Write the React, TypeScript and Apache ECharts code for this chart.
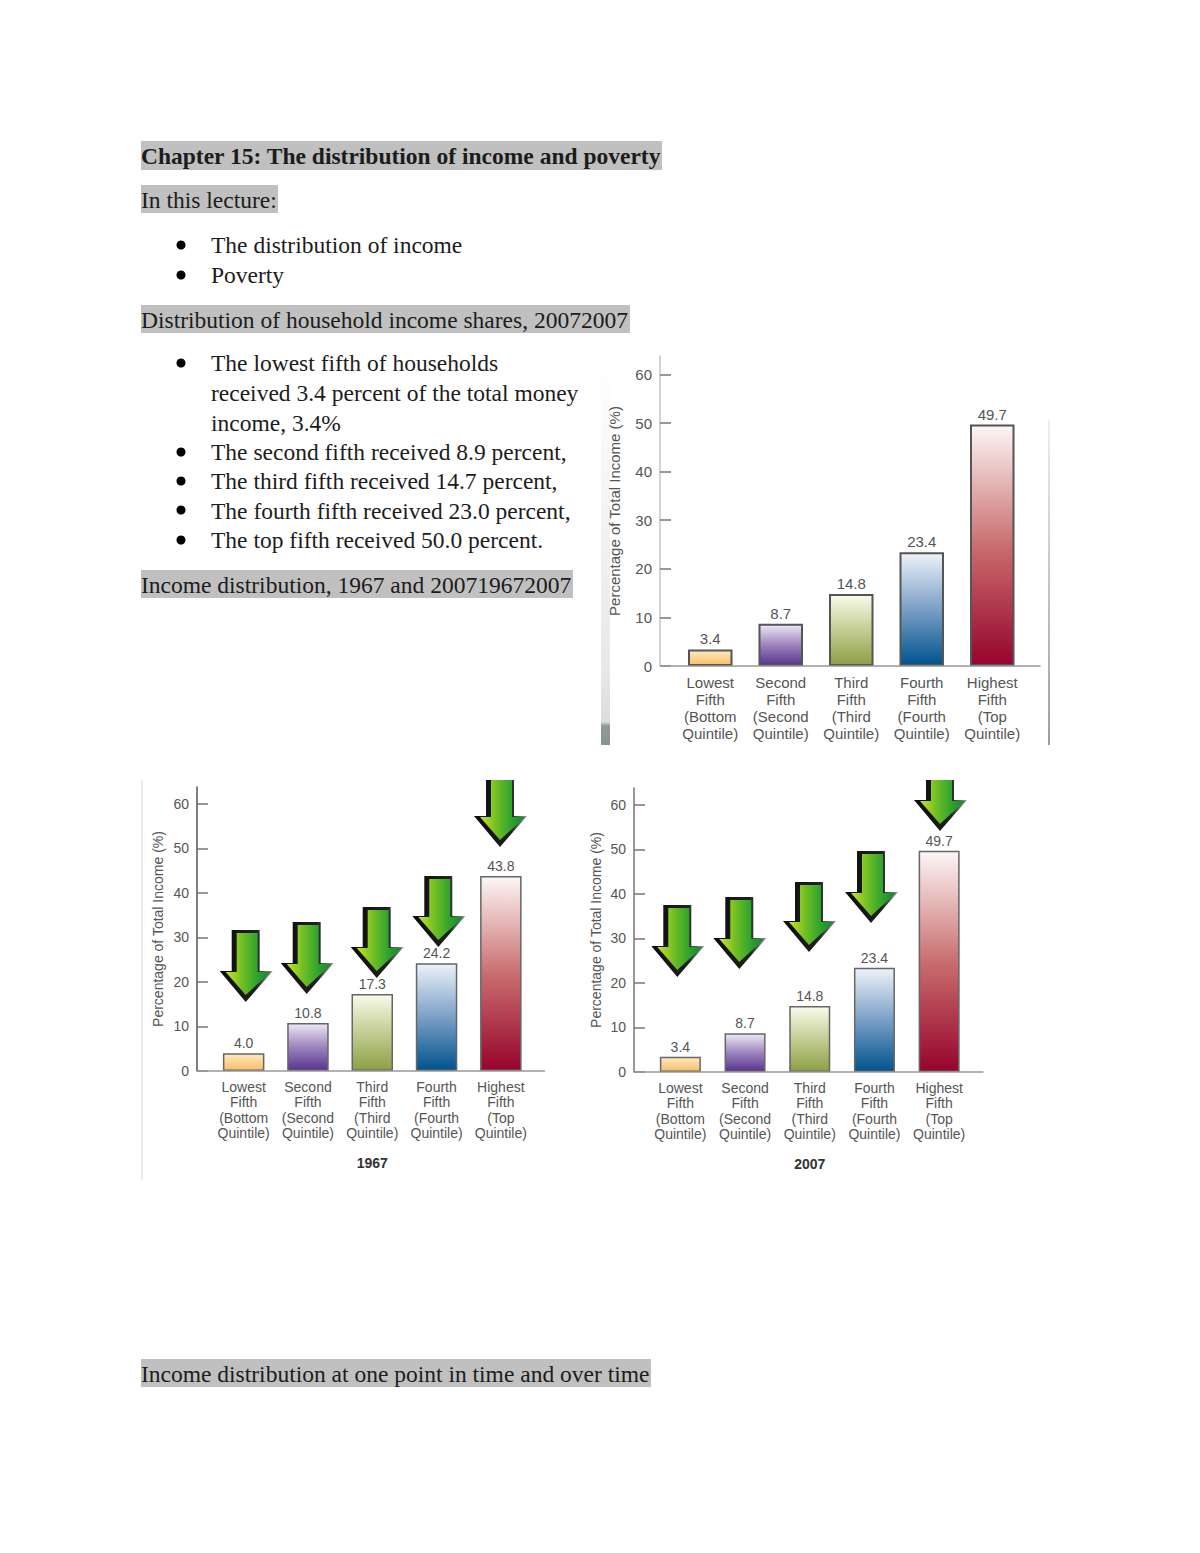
import React, { useEffect, useRef } from "react";
import * as echarts from "echarts";

const categories = [
  "Lowest\nFifth\n(Bottom\nQuintile)",
  "Second\nFifth\n(Second\nQuintile)",
  "Third\nFifth\n(Third\nQuintile)",
  "Fourth\nFifth\n(Fourth\nQuintile)",
  "Highest\nFifth\n(Top\nQuintile)",
];
const shares2007Top = [3.4, 8.7, 14.8, 23.4, 49.7];
const shares1967 = [4.0, 10.8, 17.3, 24.2, 43.8];
const shares2007 = [3.4, 8.7, 14.8, 23.4, 49.7];
const yTicks = [0, 10, 20, 30, 40, 50, 60];
const yTitle = "Percentage of Total Income (%)";
const headingMain = "Chapter 15: The distribution of income and poverty";
const headingLecture = "In this lecture:";
const headingShares = "Distribution of household income shares, 20072007";
const headingYears = "Income distribution, 1967 and 200719672007";
const headingTime = "Income distribution at one point in time and over time";
const lectureItems = ["The distribution of income", "Poverty"];
const shareLines = [
  "The lowest fifth of households",
  "received 3.4 percent of the total money",
  "income, 3.4%",
  "The second fifth received 8.9 percent,",
  "The third fifth received 14.7 percent,",
  "The fourth fifth received 23.0 percent,",
  "The top fifth received 50.0 percent.",
];

const SERIF = '"Liberation Serif"';
const SANS = '"Liberation Sans"';
const gradients = [
  ["#fdeac6", "#fcd493", "#fbbd66"],
  ["#eee8f6", "#9d85bd", "#583490"],
  ["#f8fbea", "#c3cd94", "#8d9f45"],
  ["#edf2f9", "#7b9fc6", "#00538e"],
  ["#fdf6f6", "#c96e6e", "#96042c"],
];

function vGrad(c: string[]) {
  return new echarts.graphic.LinearGradient(0, 0, 0, 1, [
    { offset: 0, color: c[0] },
    { offset: 0.5, color: c[1] },
    { offset: 1, color: c[2] },
  ]);
}

function docText(text: string, x: number, y: number, bold = false) {
  return {
    type: "text",
    x,
    y: y - 0.5,
    z: 10,
    style: {
      text,
      fill: "#1c1c1c",
      fontFamily: SERIF,
      fontSize: 23.5,
      fontWeight: bold ? "bold" : "normal",
      verticalAlign: "middle",
      align: "left",
    },
  };
}
function band(x: number, y: number, w: number, h: number) {
  return { type: "rect", z: 5, shape: { x, y, width: w, height: h }, style: { fill: "#c0c0c0" } };
}
function bullet(y: number) {
  return { type: "circle", z: 10, shape: { cx: 181, cy: y, r: 4.5 }, style: { fill: "#000" } };
}

function arrow(cx: number, tip: number, top: number, clipped = false) {
  const hy = tip - 30;
  const innerTop = clipped ? top : top + 3;
  return {
    type: "group",
    z: 20,
    children: [
      {
        type: "polygon",
        z: 20,
        shape: {
          points: [
            [cx - 14, top],
            [cx + 14, top],
            [cx + 14, hy - 1],
            [cx + 27, hy - 1],
            [cx, tip],
            [cx - 26, hy - 1],
            [cx - 14, hy - 1],
          ],
        },
        style: {
          fill: new echarts.graphic.LinearGradient(0, 0, 1, 0, [
            { offset: 0, color: "#0a0a0a" },
            { offset: 0.7, color: "#222" },
            { offset: 1, color: "#a0a0a0" },
          ]),
        },
      },
      {
        type: "polygon",
        z: 21,
        shape: {
          points: [
            [cx - 9, innerTop],
            [cx + 12, innerTop],
            [cx + 12, hy],
            [cx + 25, hy],
            [cx, tip - 7],
            [cx - 20, hy],
            [cx - 9, hy],
          ],
        },
        style: {
          fill: new echarts.graphic.LinearGradient(0, 0, 1, 0, [
            { offset: 0, color: "#c8e61a" },
            { offset: 0.35, color: "#74c024" },
            { offset: 0.7, color: "#2fa32e" },
            { offset: 1, color: "#0f8a2e" },
          ]),
        },
      },
    ],
  };
}

interface Panel {
  values: number[];
  axisX: number;
  bandLeft: number;
  bandWidth: number;
  top: number;
  zero: number;
  maxValue: number;
  fontSize: number;
  titleSize: number;
  lineHeight: number;
  barWidth: number;
  nameGap: number;
  yLine: string;
  border: string;
  borderWidth: number;
  year?: string;
}

const panels: Panel[] = [
  { values: shares2007Top, axisX: 660, bandLeft: 675, bandWidth: 352.5, top: 356, zero: 666, maxValue: 63.8, fontSize: 15, titleSize: 15, lineHeight: 17, barWidth: 44.5, nameGap: 38, yLine: "#c4c4c4", border: "#555", borderWidth: 2 },
  { values: shares1967, axisX: 197, bandLeft: 211.5, bandWidth: 321.5, top: 787, zero: 1071, maxValue: 63.8, fontSize: 14, titleSize: 14, lineHeight: 15.4, barWidth: 41.5, nameGap: 32, yLine: "#555", border: "#666", borderWidth: 1.5, year: "1967" },
  { values: shares2007, axisX: 634, bandLeft: 648, bandWidth: 323.5, top: 788, zero: 1072, maxValue: 63.8, fontSize: 14, titleSize: 14, lineHeight: 15.4, barWidth: 41, nameGap: 31, yLine: "#777", border: "#666", borderWidth: 1.5, year: "2007" },
];

function buildOption() {
  const grid = panels.map((p) => ({
    left: p.bandLeft,
    top: p.top,
    width: p.bandWidth,
    height: p.zero - p.top,
    containLabel: false,
  }));
  const xAxis = panels.map((p, i) => ({
    type: "category",
    gridIndex: i,
    data: categories,
    axisLine: { show: false },
    axisTick: { show: false },
    axisLabel: {
      interval: 0,
      color: "#555",
      fontFamily: SANS,
      fontSize: p.fontSize,
      lineHeight: p.lineHeight,
      margin: 8,
    },
    name: p.year ?? "",
    nameLocation: "middle",
    nameGap: 85,
    nameMoveOverlap: false,
    nameTextStyle: { fontFamily: SANS, fontWeight: "bold", fontSize: 14, color: "#333" },
  }));
  const yAxis = panels.map((p, i) => ({
    type: "value",
    gridIndex: i,
    min: 0,
    max: p.maxValue,
    offset: p.bandLeft - p.axisX,
    splitLine: { show: false },
    axisLine: { show: true, lineStyle: { color: p.yLine, width: 1.5 } },
    axisTick: { show: true, inside: true, length: 11, customValues: yTicks, lineStyle: { color: "#777", width: 1.5 } },
    axisLabel: { customValues: yTicks, color: "#555", fontFamily: SANS, fontSize: p.fontSize, margin: 8 },
    name: yTitle,
    nameLocation: "middle",
    nameGap: p.nameGap,
    nameMoveOverlap: false,
    nameTextStyle: { color: "#555", fontFamily: SANS, fontSize: p.titleSize },
  }));
  const series = panels.map((p, i) => ({
    type: "bar",
    xAxisIndex: i,
    yAxisIndex: i,
    barWidth: p.barWidth,
    data: p.values.map((v, j) => ({
      value: v,
      itemStyle: { color: vGrad(gradients[j]), borderColor: p.border, borderWidth: p.borderWidth },
    })),
    label: {
      show: true,
      position: "top",
      distance: 3,
      color: "#555",
      fontFamily: SANS,
      fontSize: p.fontSize,
      formatter: (d: any) => Number(d.value).toFixed(1),
    },
  }));

  const graphic: any[] = [
    band(141, 141, 521, 29),
    band(141, 185, 137, 28),
    band(141, 305, 489, 28),
    band(141, 570, 432, 28),
    band(141, 1359, 510, 28),
    docText(headingMain, 141, 156, true),
    docText(headingLecture, 141, 200),
    docText(headingShares, 141, 320),
    docText(headingYears, 141, 585),
    docText(headingTime, 141, 1374),
    bullet(245),
    bullet(275),
    docText(lectureItems[0], 211, 245),
    docText(lectureItems[1], 211, 275),
    bullet(363),
    bullet(452),
    bullet(481),
    bullet(510),
    bullet(540),
    docText(shareLines[0], 211, 363),
    docText(shareLines[1], 211, 393),
    docText(shareLines[2], 211, 423),
    docText(shareLines[3], 211, 452),
    docText(shareLines[4], 211, 481),
    docText(shareLines[5], 211, 511),
    docText(shareLines[6], 211, 540),
    // x axis baselines extend past the category bands
    ...panels.map((p) => ({
      type: "line",
      z: 3,
      shape: { x1: p.axisX, y1: p.zero, x2: p.bandLeft + p.bandWidth + (p.year ? 12 : 13), y2: p.zero },
      style: { stroke: "#999", lineWidth: 1.5 },
    })),
    // scan edges of the pasted pictures
    {
      type: "rect",
      z: -1,
      shape: { x: 601, y: 360, width: 9, height: 385 },
      style: {
        fill: new echarts.graphic.LinearGradient(0, 0, 0, 1, [
          { offset: 0, color: "#ffffff" },
          { offset: 0.8, color: "#e8e8e8" },
          { offset: 0.94, color: "#dcdcdc" },
          { offset: 0.95, color: "#909a94" },
          { offset: 1, color: "#8a948e" },
        ]),
      },
    },
    {
      type: "rect",
      z: -1,
      shape: { x: 1048, y: 420, width: 2, height: 325 },
      style: {
        fill: new echarts.graphic.LinearGradient(0, 0, 0, 1, [
          { offset: 0, color: "#eceef0" },
          { offset: 1, color: "#9a9ea2" },
        ]),
      },
    },
    { type: "rect", z: -1, shape: { x: 141, y: 780, width: 2, height: 400 }, style: { fill: "#e4ecf4" } },
    arrow(245.7, 1002, 930),
    arrow(306.7, 994, 922),
    arrow(376.7, 978, 907),
    arrow(438.3, 947, 876),
    arrow(500, 847, 780, true),
    arrow(677.3, 977, 905),
    arrow(739.3, 969, 897),
    arrow(809, 952, 882),
    arrow(871, 923, 851),
    arrow(940, 831, 780, true),
  ];

  return {
    animation: false,
    backgroundColor: "#fff",
    grid,
    xAxis,
    yAxis,
    series,
    graphic,
  };
}

export default function App() {
  const ref = useRef<HTMLDivElement>(null);
  useEffect(() => {
    const chart = echarts.init(ref.current!, undefined, { renderer: "svg" });
    chart.setOption(buildOption() as any);
    return () => chart.dispose();
  }, []);
  return <div ref={ref} style={{ position: "absolute", left: 0, top: 0, width: 1200, height: 1553 }} />;
}
